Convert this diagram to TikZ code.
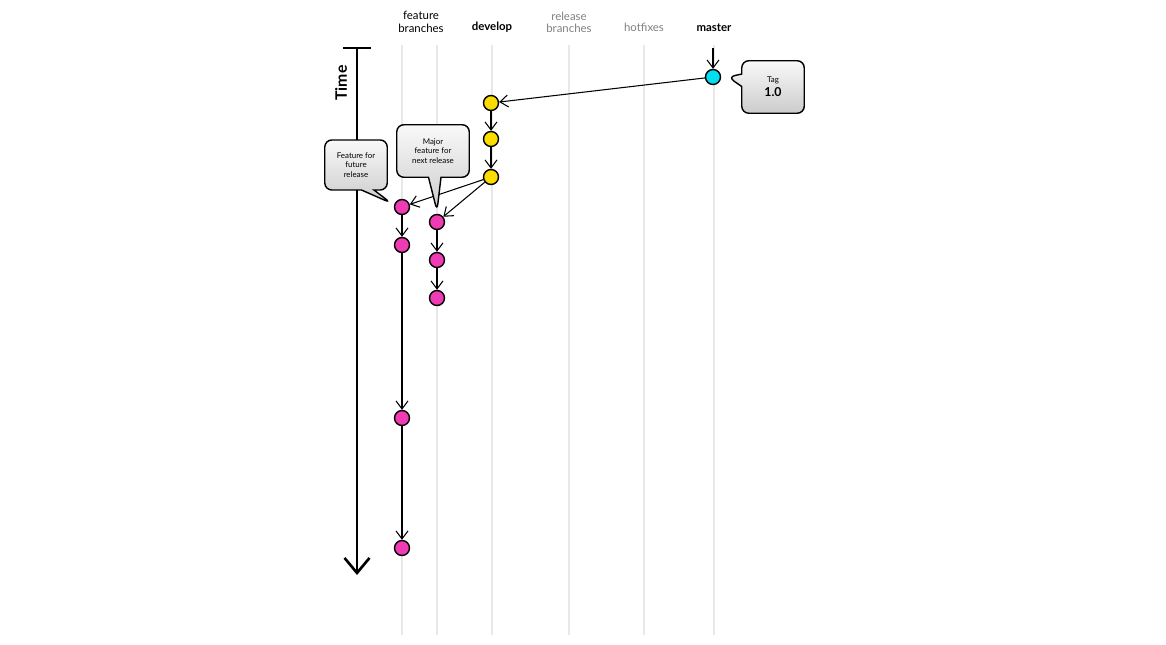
\documentclass[tikz,border=0pt]{standalone}
\usepackage{fontspec}
\setmainfont{Lato}
\usetikzlibrary{arrows.meta, positioning, shapes.callouts}
\definecolor{tagcyan}{RGB}{0,222,240}
\definecolor{devyellow}{RGB}{250,220,0}
\definecolor{featpink}{RGB}{240,60,180}
\begin{document}
\begin{tikzpicture}[
        x=0.02cm, y=-0.02cm,
        commit/.style = {
            circle,
            draw=black,
            thick,
            minimum size=0.3cm,
            inner sep=0pt
        },
        lane/.style = {
            line width=1.6pt,
            gray!18
        },
        arrow/.style = {
            -{Straight Barb[length=1.6mm, width=2.4mm]},
            semithick
        },
        head/.style = {
            font=\fontsize{6.5}{7}\selectfont,
            align=center
        },
        note/.style = {
            rectangle callout,
            rounded corners=4pt,
            draw=black,
            thick,
            top color=gray!5,
            bottom color=gray!40,
            align=center,
            font=\fontsize{4.5}{5.5}\selectfont
        }
    ]
    \useasboundingbox (0,0) rectangle (1166,645);

    % Lanes
    \foreach \x in {402,437,492,569,644,714}
        \draw[lane] (\x,45) -- (\x,635);

    % Headers
    \node[head] (hfeat) at (421,22) {feature\\branches};
    \node[head] (hdev) at (492,27) {\textbf{develop}};
    \node[head, text=gray] (hrel) at (569,22) {release\\branches};
    \node[head, text=gray] (hhot) at (644,27) {hotfixes};
    \node[head] (hmas) at (714,28) {\textbf{master}};

    % Time axis
    \coordinate (t0) at (357,48);
    \coordinate (t1) at (357,575);
    \draw[line width=1.5pt] (343,48) -- (371,48);
    \draw[line width=1.5pt, -{Straight Barb[length=3mm, width=5mm]}] (t0) -- (t1);
    \node[rotate=90, font=\bfseries\fontsize{9}{10}\selectfont] (time) at (341,83) {Time};

    % Commits
    \node[commit, fill=tagcyan] (m1) at (713,77) {};
    \node[commit, fill=devyellow] (d1) at (491,103) {};
    \node[commit, fill=devyellow] (d2) at (491,139) {};
    \node[commit, fill=devyellow] (d3) at (491,177) {};
    \node[commit, fill=featpink] (f1) at (402,207) {};
    \node[commit, fill=featpink] (f2) at (402,245) {};
    \node[commit, fill=featpink] (f3) at (402,418) {};
    \node[commit, fill=featpink] (f4) at (402,548) {};
    \node[commit, fill=featpink] (g1) at (437,222) {};
    \node[commit, fill=featpink] (g2) at (437,260) {};
    \node[commit, fill=featpink] (g3) at (437,298) {};

    % Arrows
    \coordinate (mtop) at (713,48);
    \draw[arrow] (mtop) -- (m1);
    \draw[arrow] (m1) -- (d1);
    \draw[arrow] (d1) -- (d2);
    \draw[arrow] (d2) -- (d3);
    \draw[arrow] (d3) -- (f1);
    \draw[arrow] (d3) -- (g1);
    \draw[arrow] (f1) -- (f2);
    \draw[arrow] (f2) -- (f3);
    \draw[arrow] (f3) -- (f4);
    \draw[arrow] (g1) -- (g2);
    \draw[arrow] (g2) -- (g3);

    % Notes
    \node[note, minimum width=1.25cm, minimum height=1.05cm,
          callout absolute pointer={(728,77)}] (tag) at (773,87)
          {Tag\\[1pt]{\fontsize{7}{8}\selectfont\bfseries 1.0}};
    \node[note, minimum width=1.25cm, minimum height=1cm,
          callout absolute pointer={(391,203)}] (future) at (356,165)
          {Feature for\\future\\release};
    \node[note, minimum width=1.45cm, minimum height=1.05cm,
          callout absolute pointer={(437,211)}] (major) at (433,151)
          {Major\\feature for\\next release};

\end{tikzpicture}
\end{document}
